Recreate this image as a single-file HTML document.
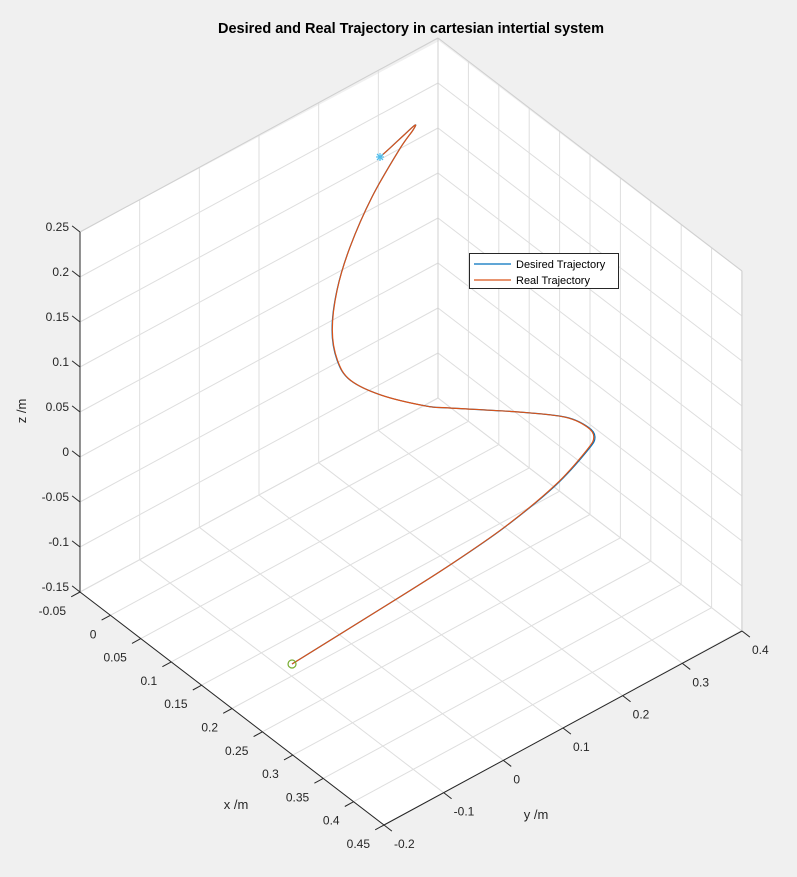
<!DOCTYPE html>
<html><head><meta charset="utf-8"><style>
html,body{margin:0;padding:0;background:#f0f0f0;}
svg{display:block;font-family:"Liberation Sans",Arial,sans-serif;}
</style></head><body>
<svg id="chart" width="797" height="877" viewBox="0 0 797 877">
<rect x="0" y="0" width="797" height="877" fill="#f0f0f0"/>
<polygon points="80,232 439,41 741,271 741,630 384,825 80,592" fill="#ffffff"/>
<g id="grid"></g>
<g id="axes"></g>
<g id="series"></g>
<text x="411" y="33" text-anchor="middle" font-size="14.5" font-weight="bold" fill="#000">Desired and Real Trajectory in cartesian intertial system</text>
<text x="26" y="411" text-anchor="middle" font-size="13" fill="#262626" transform="rotate(-90 26 411)">z /m</text>
<text x="236" y="809" text-anchor="middle" font-size="13" fill="#262626">x /m</text>
<text x="536" y="819" text-anchor="middle" font-size="13" fill="#262626">y /m</text>
<g>
<rect x="469.5" y="253.5" width="149" height="35" fill="#fff" stroke="#262626" stroke-width="1"/>
<line x1="474" y1="264" x2="511" y2="264" stroke="#0072bd" stroke-width="1.2"/>
<text x="516" y="268" font-size="11" fill="#000">Desired Trajectory</text>
<line x1="474" y1="280" x2="511" y2="280" stroke="#d95319" stroke-width="1.2"/>
<text x="516" y="284" font-size="11" fill="#000">Real Trajectory</text>
</g>
</svg>
<script>
const xTicks = [-0.05, 0, 0.05, 0.1, 0.15, 0.2, 0.25, 0.3, 0.35, 0.4, 0.45];
const xTickLabels = ["-0.05","0","0.05","0.1","0.15","0.2","0.25","0.3","0.35","0.4","0.45"];
const yTicks = [-0.2, -0.1, 0, 0.1, 0.2, 0.3, 0.4];
const yTickLabels = ["-0.2","-0.1","0","0.1","0.2","0.3","0.4"];
const zTicks = [-0.15, -0.1, -0.05, 0, 0.05, 0.1, 0.15, 0.2, 0.25];
const zTickLabels = ["-0.15","-0.1","-0.05","0","0.05","0.1","0.15","0.2","0.25"];

const desiredX = [0.2415,0.2538,0.2586,0.2596,0.2529,0.2420,0.2361,0.2244,0.2018,0.1699,0.1235,0.1103,0.0771,0.0484,0.0258,0.0073,-0.0170,-0.0282,-0.0422,-0.0489,-0.0475,-0.0468,-0.0304,-0.0123,0.0035];
const desiredY = [-0.1417,0.0183,0.1056,0.1968,0.2891,0.3538,0.3716,0.3718,0.3562,0.3117,0.2433,0.2166,0.1749,0.1522,0.1535,0.1640,0.1971,0.2303,0.2814,0.3335,0.3556,0.3582,0.3231,0.2811,0.2483];
const desiredZ = [-0.10,-0.08,-0.07,-0.06,-0.05,-0.04,-0.035,-0.03,-0.025,-0.02,-0.015,-0.01,0.0,0.01,0.02,0.04,0.06,0.09,0.12,0.15,0.165,0.17,0.18,0.19,0.20];

const realX = [0.2415,0.2538,0.2586,0.2594,0.2524,0.2412,0.2352,0.2238,0.2015,0.1697,0.1235,0.1104,0.0773,0.0488,0.0262,0.0076,-0.0168,-0.0281,-0.0421,-0.0488,-0.0474,-0.0466,-0.0304,-0.0123,0.0035];
const realY = [-0.1417,0.0183,0.1056,0.1966,0.2885,0.3528,0.3705,0.3710,0.3556,0.3115,0.2433,0.2166,0.1749,0.1524,0.1538,0.1642,0.1971,0.2303,0.2814,0.3335,0.3554,0.3578,0.3231,0.2811,0.2483];
const realZ = desiredZ.slice();

const NS = "http://www.w3.org/2000/svg";
const X0=-0.05, X1=0.45, Y0=-0.2, Y1=0.4, Z0=-0.15, Z1=0.25;
function P(x,y,z){
  const u=(x-X0)/(X1-X0), v=(y-Y0)/(Y1-Y0), w=(z-Z0)/(Z1-Z0);
  return [80+304*u+358*v, 592+233*u-194*v-360*w];
}
function line(g,a,b,stroke,sw){
  const l=document.createElementNS(NS,"line");
  l.setAttribute("x1",a[0]);l.setAttribute("y1",a[1]);
  l.setAttribute("x2",b[0]);l.setAttribute("y2",b[1]);
  l.setAttribute("stroke",stroke);l.setAttribute("stroke-width",sw);
  g.appendChild(l);return l;
}
function text(g,x,y,s,anchor){
  const t=document.createElementNS(NS,"text");
  t.setAttribute("x",x);t.setAttribute("y",y);
  t.setAttribute("font-size","12");t.setAttribute("fill","#262626");
  t.setAttribute("text-anchor",anchor);t.textContent=s;g.appendChild(t);return t;
}
const grid=document.getElementById("grid");
const GC="#dedede";
xTicks.forEach(x=>{
  let l=line(grid,P(x,Y0,Z0),P(x,Y1,Z0),GC,1);
  
  
  l=line(grid,P(x,Y1,Z0),P(x,Y1,Z1),GC,1);
  
  
});
yTicks.forEach(y=>{
  let l=line(grid,P(X0,y,Z0),P(X1,y,Z0),GC,1);
  
  
  l=line(grid,P(X0,y,Z0),P(X0,y,Z1),GC,1);
  
  
});
zTicks.forEach(z=>{
  let l=line(grid,P(X0,Y1,z),P(X1,Y1,z),GC,1);
  
  
  l=line(grid,P(X0,Y0,z),P(X0,Y1,z),GC,1);
  
  
});
[[P(X0,Y0,Z1),P(X0,Y1,Z1)],[P(X0,Y1,Z1),P(X1,Y1,Z1)],[P(X1,Y1,Z0),P(X1,Y1,Z1)],[P(X0,Y1,Z0),P(X0,Y1,Z1)]].forEach(s=>{
  const l=line(grid,s[0],s[1],"#d0d0d0",1);
  
  
});
const axes=document.getElementById("axes");
const AC="#262626";
let al=line(axes,P(X0,Y0,Z0),P(X0,Y0,Z1),AC,1);


al=line(axes,P(X0,Y0,Z0),P(X1,Y0,Z0),AC,1);


al=line(axes,P(X1,Y0,Z0),P(X1,Y1,Z0),AC,1);


xTicks.forEach((x,i)=>{
  const p=P(x,Y0,Z0);
  const l=line(axes,p,[p[0]-8.8,p[1]+4.8],AC,1);
  
  
  const t=text(axes,p[0]-14,p[1]+23,xTickLabels[i],"end");
  
  
});
yTicks.forEach((y,i)=>{
  const p=P(X1,y,Z0);
  const l=line(axes,p,[p[0]+7.9,p[1]+6.1],AC,1);
  
  
  const t=text(axes,p[0]+10,p[1]+23,yTickLabels[i],"start");
  
  
});
zTicks.forEach((z,i)=>{
  const p=P(X0,Y0,z);
  const l=line(axes,p,[p[0]-7.9,p[1]-6.1],AC,1);
  
  
  const t=text(axes,p[0]-11,p[1]-1,zTickLabels[i],"end");
  
  
});
function smoothPath(pts){
  let d="M"+pts[0][0].toFixed(2)+","+pts[0][1].toFixed(2);
  for(let i=0;i<pts.length-1;i++){
    const p0=pts[Math.max(0,i-1)],p1=pts[i],p2=pts[i+1],p3=pts[Math.min(pts.length-1,i+2)];
    const c1=[p1[0]+(p2[0]-p0[0])/6,p1[1]+(p2[1]-p0[1])/6];
    const c2=[p2[0]-(p3[0]-p1[0])/6,p2[1]-(p3[1]-p1[1])/6];
    d+=" C"+c1[0].toFixed(2)+","+c1[1].toFixed(2)+" "+c2[0].toFixed(2)+","+c2[1].toFixed(2)+" "+p2[0].toFixed(2)+","+p2[1].toFixed(2);
  }
  return d;
}
const series=document.getElementById("series");
function drawSeries(X,Y,Z,color,name){
  const pts=X.map((x,i)=>P(x,Y[i],Z[i]));
  const p=document.createElementNS(NS,"path");
  p.setAttribute("d",smoothPath(pts));
  p.setAttribute("fill","none");p.setAttribute("stroke",color);p.setAttribute("stroke-width","1.2");
  
  
  series.appendChild(p);
  return pts;
}
const dp=drawSeries(desiredX,desiredY,desiredZ,"#0072bd","desired-trajectory-line");
drawSeries(realX,realY,realZ,"#d95319","real-trajectory-line");
const s=dp[0];
const c=document.createElementNS(NS,"circle");
c.setAttribute("cx",s[0]);c.setAttribute("cy",s[1]);c.setAttribute("r","4");
c.setAttribute("fill","none");c.setAttribute("stroke","#77ac30");c.setAttribute("stroke-width","1.2");


series.appendChild(c);
const e=dp[dp.length-1];
const star=document.createElementNS(NS,"g");


[[-4,0,4,0],[0,-4,0,4],[-3,-3,3,3],[-3,3,3,-3]].forEach(q=>{
  line(star,[e[0]+q[0],e[1]+q[1]],[e[0]+q[2],e[1]+q[3]],"#4dbeee",1.2);
});
series.appendChild(star);
</script>
</body></html>
